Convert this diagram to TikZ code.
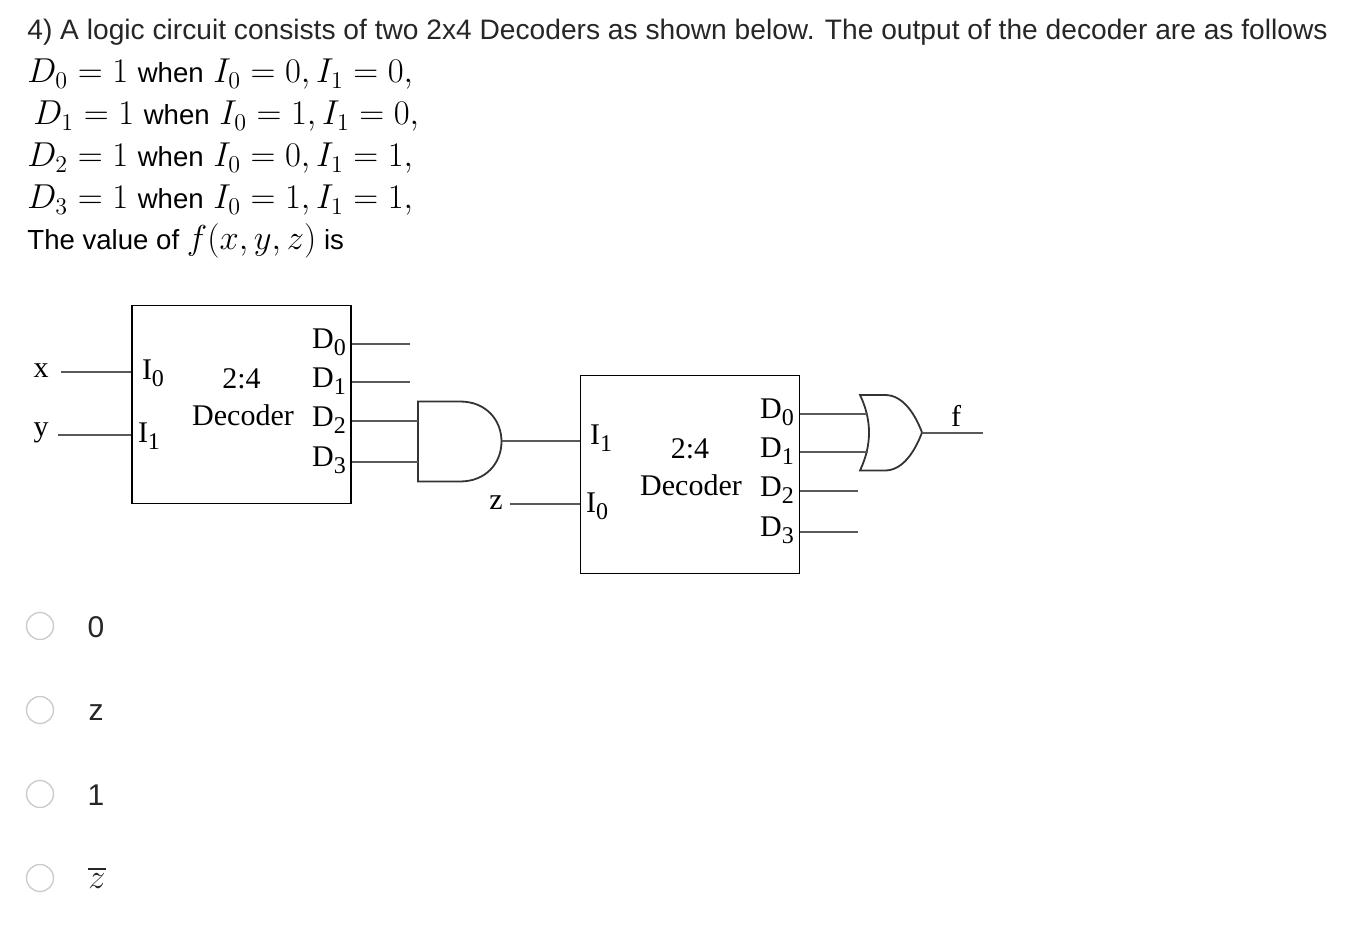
\documentclass[tikz,border=0pt]{standalone}
\usepackage{amsmath,amssymb}
\usepackage{fontspec}
\setmainfont{Liberation Sans}
\newfontfamily\pinfont{Liberation Serif}
\usetikzlibrary{calc}
\newcommand{\pinsub}[1]{\raisebox{-0.5ex}{\fontsize{12}{12}\selectfont #1}}
\newcommand{\plain}[1]{{\fontsize{13.8}{17}\selectfont #1}}
\tikzset{
    line/.style={line width=1pt,black!65},
    gate/.style={line width=0.9pt,black!80},
    decoder/.style={draw,line width=0.9pt,minimum width=109.5pt,minimum height=99pt,inner sep=0pt},
    pin/.style={inner sep=0pt,font=\pinfont\fontsize{15}{17}\selectfont},
    question/.style={anchor=base west,inner sep=0pt,text=black!85,font=\fontsize{14.08}{17}\selectfont},
    formula/.style={anchor=base west,inner sep=0pt,text=black,font=\fontsize{17.28}{20}\selectfont},
    radio/.style={circle,draw=black!20,line width=0.7pt,minimum size=13.5pt,inner sep=0pt},
    choice/.style={inner sep=0pt,text=black!85,font=\fontsize{15}{18}\selectfont}
}

\begin{document}
\begin{tikzpicture}[x=0.5pt,y=-0.5pt]
    \useasboundingbox (0,0) rectangle (1368,946);

    %question
    \node[question] (title) at (27,40) {4) A logic circuit consists of two 2x4 Decoders as shown below. The output of the decoder are as follows};
    \node[formula] (eqa) at (27,83) {$D_0=1$ \plain{when} $I_0=0,I_1=0,$};
    \node[formula] (eqb) at (33,125) {$D_1=1$ \plain{when} $I_0=1,I_1=0,$};
    \node[formula] (eqc) at (27,167) {$D_2=1$ \plain{when} $I_0=0,I_1=1,$};
    \node[formula] (eqd) at (27,209) {$D_3=1$ \plain{when} $I_0=1,I_1=1,$};
    \node[formula] (eqe) at (27,250) {\plain{The value of }$f(x,y,z)$\plain{ is}};

    %first decoder
    \node[decoder] (decone) at (241.5,404.5) {};
    \node[pin] (xlabel) at (41,371) {x};
    \node[pin] (ylabel) at (41,433) {y};
    \node[pin] (ionea) at (153,373) {I\pinsub{0}};
    \node[pin] (ioneb) at (149,436) {I\pinsub{1}};
    \node[pin] (textonea) at (241.5,379) {2:4};
    \node[pin] (textoneb) at (243,415) {Decoder};
    \node[pin] (donea) at (329,342) {D\pinsub{0}};
    \node[pin] (doneb) at (329,381) {D\pinsub{1}};
    \node[pin] (donec) at (329,420) {D\pinsub{2}};
    \node[pin] (doned) at (329,460) {D\pinsub{3}};

    %second decoder
    \node[decoder] (dectwo) at (690,474.5) {};
    \node[pin] (zlabel) at (496,503) {z};
    \node[pin] (itwoa) at (601,438) {I\pinsub{1}};
    \node[pin] (itwob) at (597,506) {I\pinsub{0}};
    \node[pin] (texttwoa) at (690,449) {2:4};
    \node[pin] (texttwob) at (691,485) {Decoder};
    \node[pin] (dtwoa) at (777,412) {D\pinsub{0}};
    \node[pin] (dtwob) at (777,451) {D\pinsub{1}};
    \node[pin] (dtwoc) at (777,490) {D\pinsub{2}};
    \node[pin] (dtwod) at (777,530) {D\pinsub{3}};
    \node[pin] (flabel) at (956,416) {f};

    %and gate
    \draw[gate] (418,401.5) -- (460,401.5) .. controls (486,401.5) and (501.5,420) .. (501.5,441.5) .. controls (501.5,463) and (486,481.5) .. (460,481.5) -- (418,481.5) -- cycle;
    \coordinate (anda) at (418,421);
    \coordinate (andb) at (418,462);
    \coordinate (andout) at (501.5,441);

    %or gate
    \draw[gate] (860,395) -- (885,395) .. controls (903,395) and (915,414) .. (922,432.5) .. controls (915,451) and (903,470.5) .. (885,470.5) -- (860,470.5) .. controls (872,445) and (872,420) .. (860,395) -- cycle;
    \coordinate (ora) at (868,414);
    \coordinate (orb) at (868,452);
    \coordinate (orout) at (922,432.5);

    %wires
    \coordinate (xstart) at (61,372);
    \coordinate (ystart) at (58,434.5);
    \coordinate (zstart) at (510,504);
    \coordinate (fend) at (983,432.5);
    \coordinate (conea) at (410,344);
    \coordinate (coneb) at (410,382);
    \coordinate (ctwoc) at (858,491);
    \coordinate (ctwod) at (858,532);
    \draw[line] (xstart) -- (xstart -| decone.west);
    \draw[line] (ystart) -- (ystart -| decone.west);
    \draw[line] (conea -| decone.east) -- (conea);
    \draw[line] (coneb -| decone.east) -- (coneb);
    \draw[line] (anda -| decone.east) -- (anda);
    \draw[line] (andb -| decone.east) -- (andb);
    \draw[line] (andout) -- (andout -| dectwo.west);
    \draw[line] (zstart) -- (zstart -| dectwo.west);
    \draw[line] (ora -| dectwo.east) -- (ora);
    \draw[line] (orb -| dectwo.east) -- (orb);
    \draw[line] (ctwoc -| dectwo.east) -- (ctwoc);
    \draw[line] (ctwod -| dectwo.east) -- (ctwod);
    \draw[line] (orout) -- (fend);

    %choices
    \node[radio] (radioa) at (40,626) {};
    \node[radio] (radiob) at (40,710) {};
    \node[radio] (radioc) at (40,794) {};
    \node[radio] (radiod) at (40,878) {};
    \node[choice] (choicea) at (96,627) {0};
    \node[choice] (choiceb) at (96,713) {z};
    \node[choice] (choicec) at (96,795) {1};
    \node[choice,font=\fontsize{17.28}{20}\selectfont] (choiced) at (97,878) {$\overline{z}$};
\end{tikzpicture}
\end{document}
